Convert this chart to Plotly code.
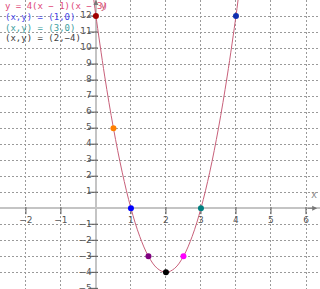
import plotly.graph_objects as go

# Curve samples (y = 4(x-1)(x-3))
curve_x = [-0.06, 0, 0.25, 0.5, 0.75, 1, 1.25, 1.5, 1.75, 2, 2.25, 2.5, 2.75, 3, 3.25, 3.5, 3.75, 4, 4.06]
curve_y = [13.0, 12, 8.25, 5, 2.25, 0, -1.75, -3, -3.75, -4, -3.75, -3, -1.75, 0, 2.25, 5, 8.25, 12, 13.0]

# Marked points
pt_x = [0, 0.5, 1, 1.5, 2, 2.5, 3, 4]
pt_y = [12, 5, 0, -3, -4, -3, 0, 12]
pt_colors = ["#a00000", "#ff8000", "#0000ff", "#800080", "#000000", "#ff00ff", "#008080", "#1030b0"]

# Tick labels
xtick_vals = [-2, -1, 1, 2, 3, 4, 5, 6]
xtick_text = ["\u22122", "\u22121", "1", "2", "3", "4", "5", "6"]
ytick_vals = [-5, -4, -3, -2, -1, 1, 2, 3, 4, 5, 6, 7, 8, 9, 10, 11, 12]
ytick_text = [("\u2212" + str(-v)) if v < 0 else str(v) for v in ytick_vals]

legend_lines = ["y = 4(x \u2212 1)(x \u2212 3)", "(x,y) = (1,0)", "(x,y) = (3,0)", "(x,y) = (2,\u22124)"]
legend_colors = ["#e04a7a", "#4848e8", "#40a0a0", "#404040"]

XR = [-2.74, 6.4]
YR = [-5.04, 13.0]

fig = go.Figure()

# y-axis tick marks
fig.add_trace(go.Scatter(x=[-0.08] * len(ytick_vals), y=ytick_vals, mode="markers",
                         marker=dict(symbol="line-ew", size=7, line=dict(color="#555", width=1)),
                         hoverinfo="skip", showlegend=False))
# x-axis tick marks
fig.add_trace(go.Scatter(x=xtick_vals, y=[-0.15] * len(xtick_vals), mode="markers",
                         marker=dict(symbol="line-ns", size=5, line=dict(color="#555", width=1)),
                         hoverinfo="skip", showlegend=False))

fig.add_trace(go.Scatter(x=curve_x, y=curve_y, mode="lines", line=dict(color="#c8607a", width=1, shape="spline"),
                         hoverinfo="skip", showlegend=False))
fig.add_trace(go.Scatter(x=pt_x, y=pt_y, mode="markers", marker=dict(color=pt_colors, size=6),
                         showlegend=False))

# tick labels
fig.add_trace(go.Scatter(x=xtick_vals, y=[-0.75] * len(xtick_vals), mode="text", text=xtick_text,
                         textposition="middle center", textfont=dict(family="DejaVu Sans", size=9, color="#555"),
                         hoverinfo="skip", showlegend=False))
fig.add_trace(go.Scatter(x=[-0.12] * len(ytick_vals), y=ytick_vals, mode="text", text=ytick_text,
                         textposition="middle left", textfont=dict(family="DejaVu Sans", size=9, color="#555"),
                         hoverinfo="skip", showlegend=False))
# axis names
fig.add_trace(go.Scatter(x=[6.23, 0.22], y=[0.77, 12.62], mode="text", text=["x", "y"],
                         textposition="middle center",
                         textfont=dict(family="DejaVu Sans Mono", size=10, color=["#888", "#c8607a"]),
                         hoverinfo="skip", showlegend=False))

annotations = []
for i, (t, c) in enumerate(zip(legend_lines, legend_colors)):
    annotations.append(dict(xref="paper", yref="paper", x=0.008, y=1 - (6 + 10.8 * i) / 289,
                            text=t, showarrow=False, xanchor="left", yanchor="middle",
                            font=dict(family="DejaVu Sans Mono", size=9, color=c)))
# axis arrows
annotations.append(dict(x=6.32, y=0, ax=6.0, ay=0, xref="x", yref="y", axref="x", ayref="y",
                        showarrow=True, arrowhead=2, arrowsize=1, arrowwidth=1, arrowcolor="#777", text=""))
annotations.append(dict(x=0, y=13.0, ax=0, ay=12.6, xref="x", yref="y", axref="x", ayref="y",
                        showarrow=True, arrowhead=2, arrowsize=1, arrowwidth=1, arrowcolor="#777", text=""))

grid = dict(dtick=1, tick0=0, showgrid=True, gridcolor="#9a9a9a", griddash="2px,2px", gridwidth=1,
            zeroline=True, zerolinecolor="#c4c4c4", zerolinewidth=2, showticklabels=False, ticks="")
fig.update_layout(
    width=320, height=289, margin=dict(l=0, r=0, t=0, b=0),
    paper_bgcolor="white", plot_bgcolor="white",
    annotations=annotations,
    xaxis=dict(range=XR, **grid),
    yaxis=dict(range=YR, **grid),
)
fig.write_html("out.html")
